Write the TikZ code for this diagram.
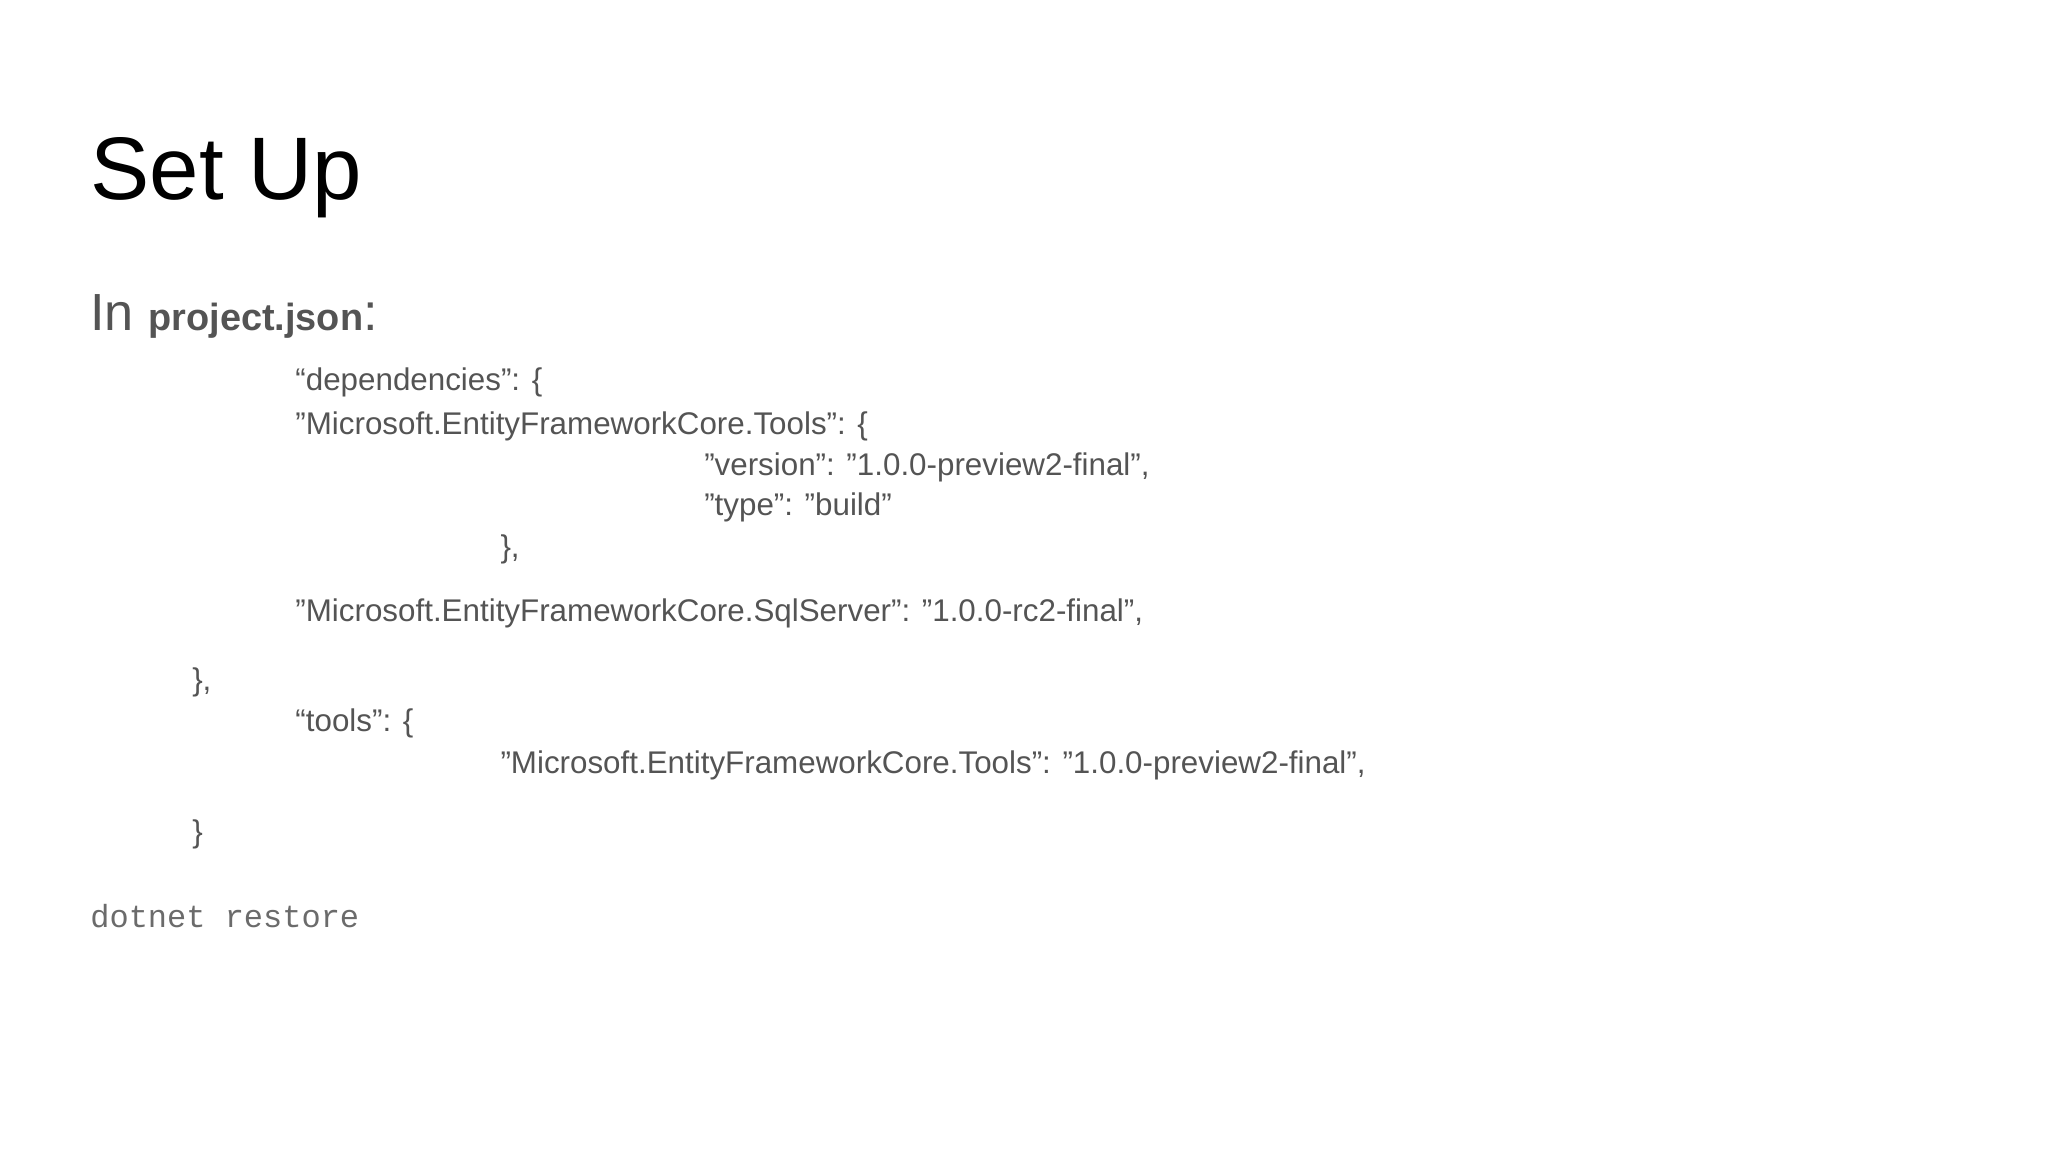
\documentclass[tikz,border=0pt]{standalone}
\usepackage{fontspec}
\setmainfont{Liberation Sans}
\setmonofont{Liberation Mono}
\definecolor{txt}{gray}{0.33}
\definecolor{mono}{gray}{0.42}
\begin{document}
\begin{tikzpicture}[x=1pt,y=-1pt,
  code/.style={anchor=base west,inner sep=0,text=txt,font=\fontsize{24}{28}\selectfont}]
\useasboundingbox (0,0) rectangle (1568,882);
\node[anchor=base west,inner sep=0,font=\fontsize{68}{80}\selectfont] (title) at (69,153) {Set Up};
\node[anchor=base west,inner sep=0,text=txt,font=\fontsize{40}{48}\selectfont] (in) at (69,253) {In {\bfseries\fontsize{29}{34}\selectfont project.json}:};
\node[code] (l1) at (226,299) {“dependencies”: \{};
\node[code] (l2) at (226,333) {"Microsoft.EntityFrameworkCore.Tools": \{};
\node[code] (l3) at (539,364) {"version": "1.0.0-preview2-final",};
\node[code] (l4) at (539,395) {"type": "build"};
\node[code] (l5) at (383,427) {\},};
\node[code] (l6) at (226,476) {"Microsoft.EntityFrameworkCore.SqlServer": "1.0.0-rc2-final",};
\node[code] (l7) at (147,529) {\},};
\node[code] (l8) at (226,560) {“tools”: \{};
\node[code] (l9) at (383,592) {"Microsoft.EntityFrameworkCore.Tools": "1.0.0-preview2-final",};
\node[code] (l10) at (147,645) {\}};
\node[anchor=base west,inner sep=0,text=mono,font=\ttfamily\fontsize{24.5}{28}\selectfont] (cmd) at (69,710) {dotnet restore};
\end{tikzpicture}
\end{document}
